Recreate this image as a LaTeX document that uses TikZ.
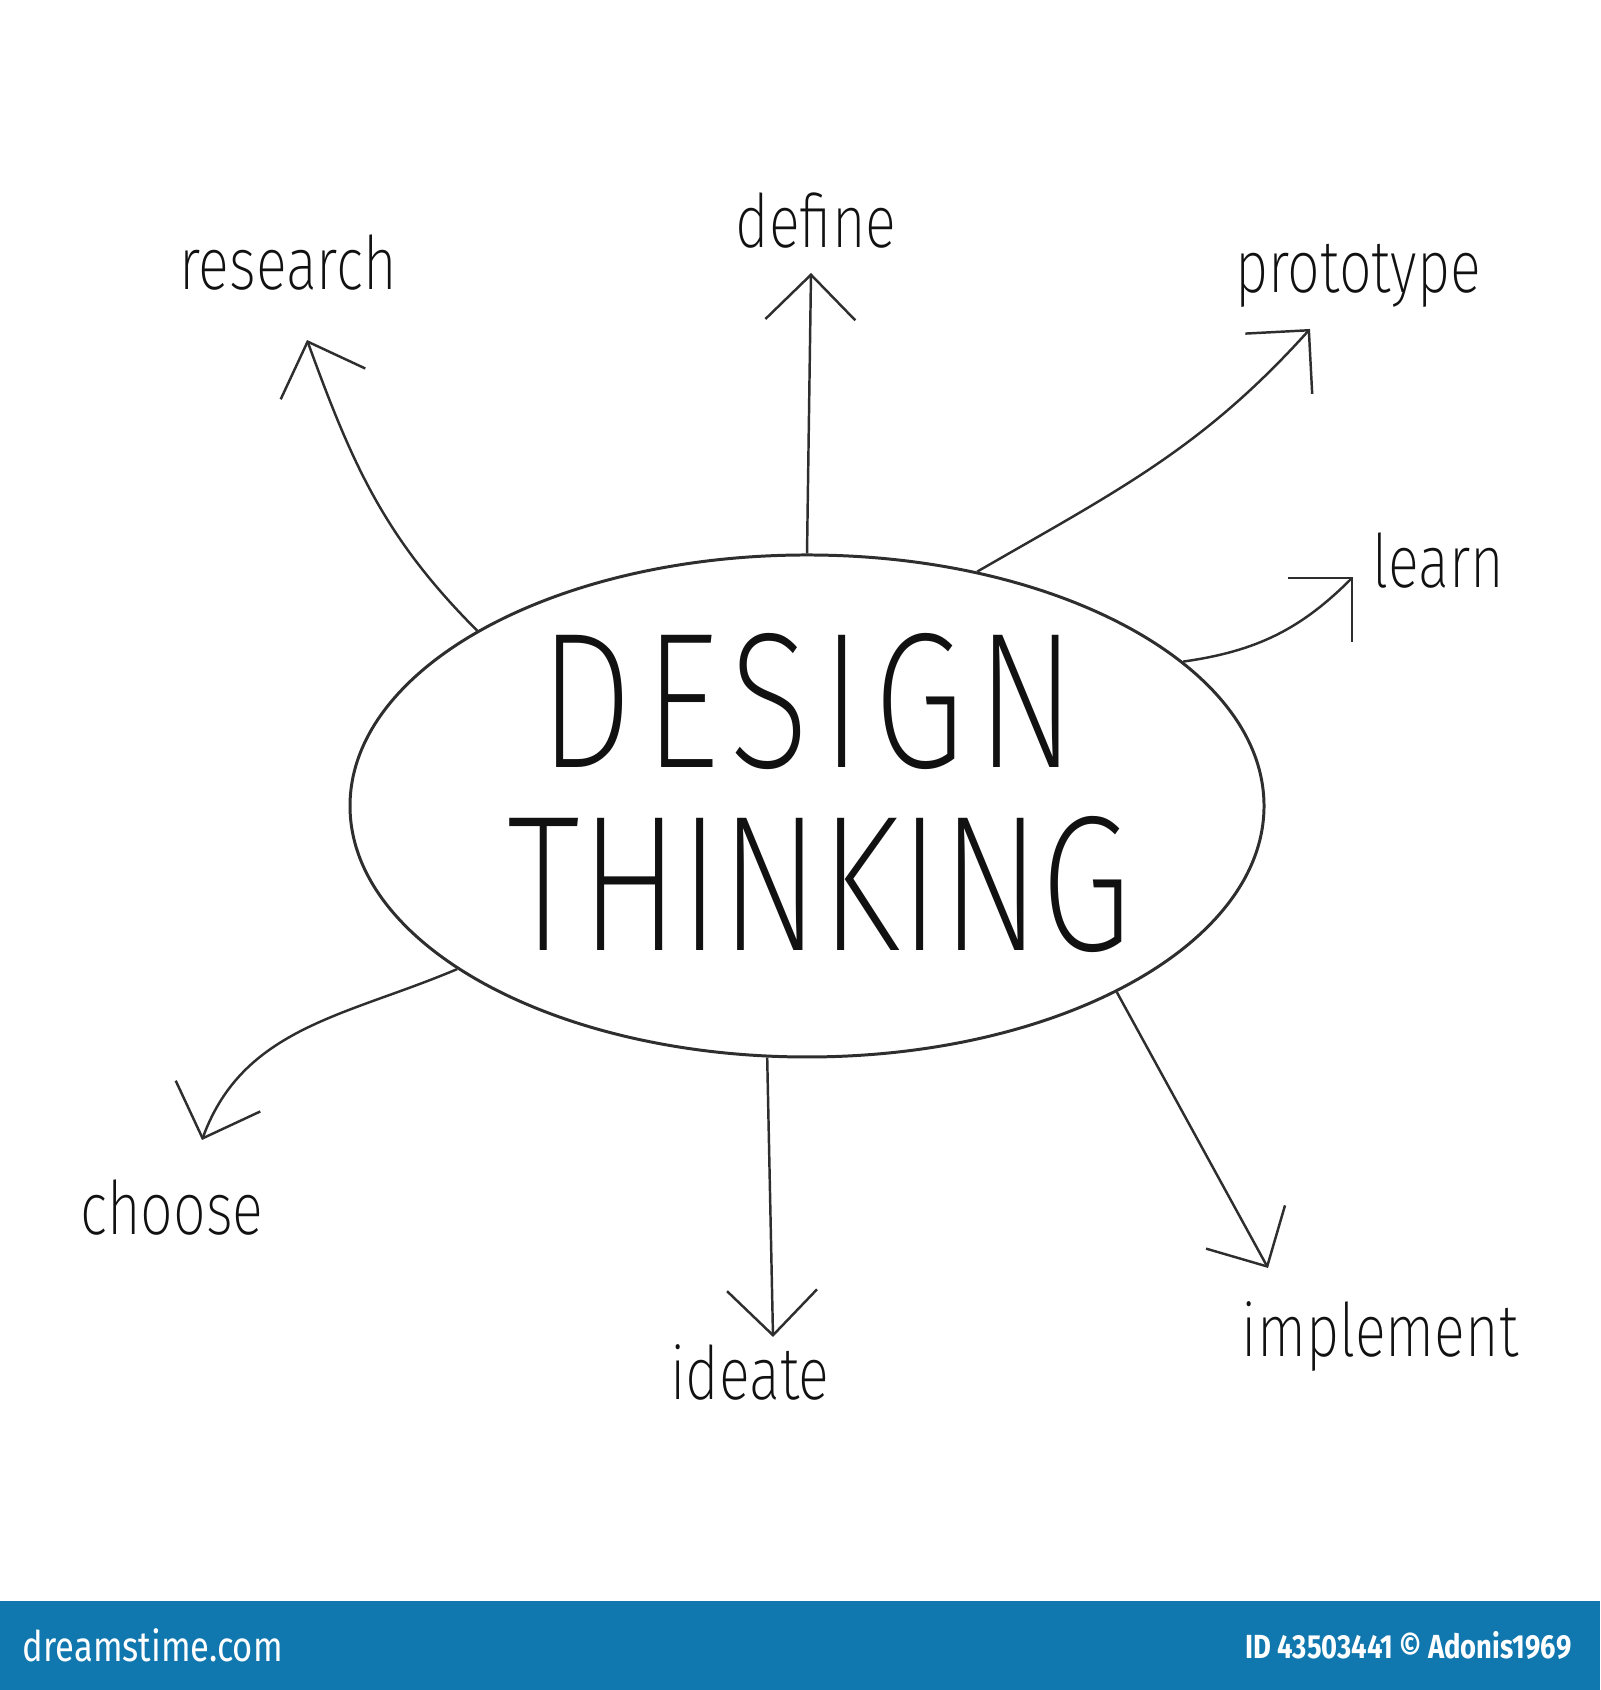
\documentclass[tikz,border=0pt]{standalone}
\usepackage{fontspec}
\newfontfamily\barfont{Fira Sans}[FakeStretch=0.82]
\newfontfamily\handfont{Fira Sans ExtraLight}[FakeStretch=0.78]
\newfontfamily\titlefont{Fira Sans ExtraLight}[FakeStretch=0.77]
\usepackage{xcolor}
\usetikzlibrary{arrows.meta,shapes.geometric}
\definecolor{pencil}{HTML}{2E2E2E}
\definecolor{ink}{HTML}{111111}
\definecolor{barblue}{HTML}{1177AF}

\begin{document}
\begin{tikzpicture}[every edge/.style={draw=pencil,line width=0.7pt,-{Straight Barb[length=4.5mm,width=9mm]}},
	word/.style={font=\handfont\fontsize{21}{24}\selectfont,text=ink,inner sep=0pt,anchor=base},
	title/.style={font=\titlefont\fontsize{55}{60}\selectfont,text=ink,inner sep=0pt,anchor=base}]
	\useasboundingbox (0,0) rectangle (16,16.9);
	\node[ellipse,draw=pencil,line width=0.85pt,minimum width=9.14cm,minimum height=5.02cm] (core) at (8.07,8.84) {};
	\node[title] (design) at (8.08,9.22) {\addfontfeature{LetterSpace=6}DESIGN};
	\node[title] (thinking) at (8.20,7.39) {THINKING};

	\node[word] (research) at (2.88,14.00) {research};
	\node[word] (define) at (8.16,14.42) {define};
	\node[word] (prototype) at (13.58,13.97) {prototype};
	\node[word] (learn) at (14.38,11.02) {learn};
	\node[word] (choose) at (1.72,4.55) {choose};
	\node[word] (ideate) at (7.50,2.90) {ideate};
	\node[word] (implement) at (13.80,3.33) {implement};

	\coordinate (rsTip) at (3.07,13.50);
	\coordinate (dfTip) at (8.11,14.17);
	\coordinate (ptTip) at (13.10,13.61);
	\coordinate (lnTip) at (13.53,11.13);
	\coordinate (chTip) at (2.02,5.50);
	\coordinate (idTip) at (7.73,3.53);
	\coordinate (imTip) at (12.68,4.22);

	\path (core.152) edge [out=135,in=-70] (rsTip);
	\path (core.north) edge (dfTip);
	\path (core.54) edge [out=30,in=228] (ptTip);
	\path (core.21) edge [out=8,in=225] (lnTip);
	\path (core.205) edge [out=203,in=70] (chTip);
	\path (core.261) edge (idTip);
	\path (core.-31) edge (imTip);

	% stock bar
	\fill[barblue] (0,0) rectangle (16,0.89);
	\node[font=\barfont\fontsize{12}{14}\selectfont,text=white,anchor=west,inner sep=0pt] (brand) at (0.22,0.45) {dreamstime.com};
	\node[font=\barfont\bfseries\fontsize{9.5}{12}\selectfont,text=white,anchor=east,inner sep=0pt] (credit) at (15.72,0.45) {ID 43503441 © Adonis1969};
\end{tikzpicture}
\end{document}
